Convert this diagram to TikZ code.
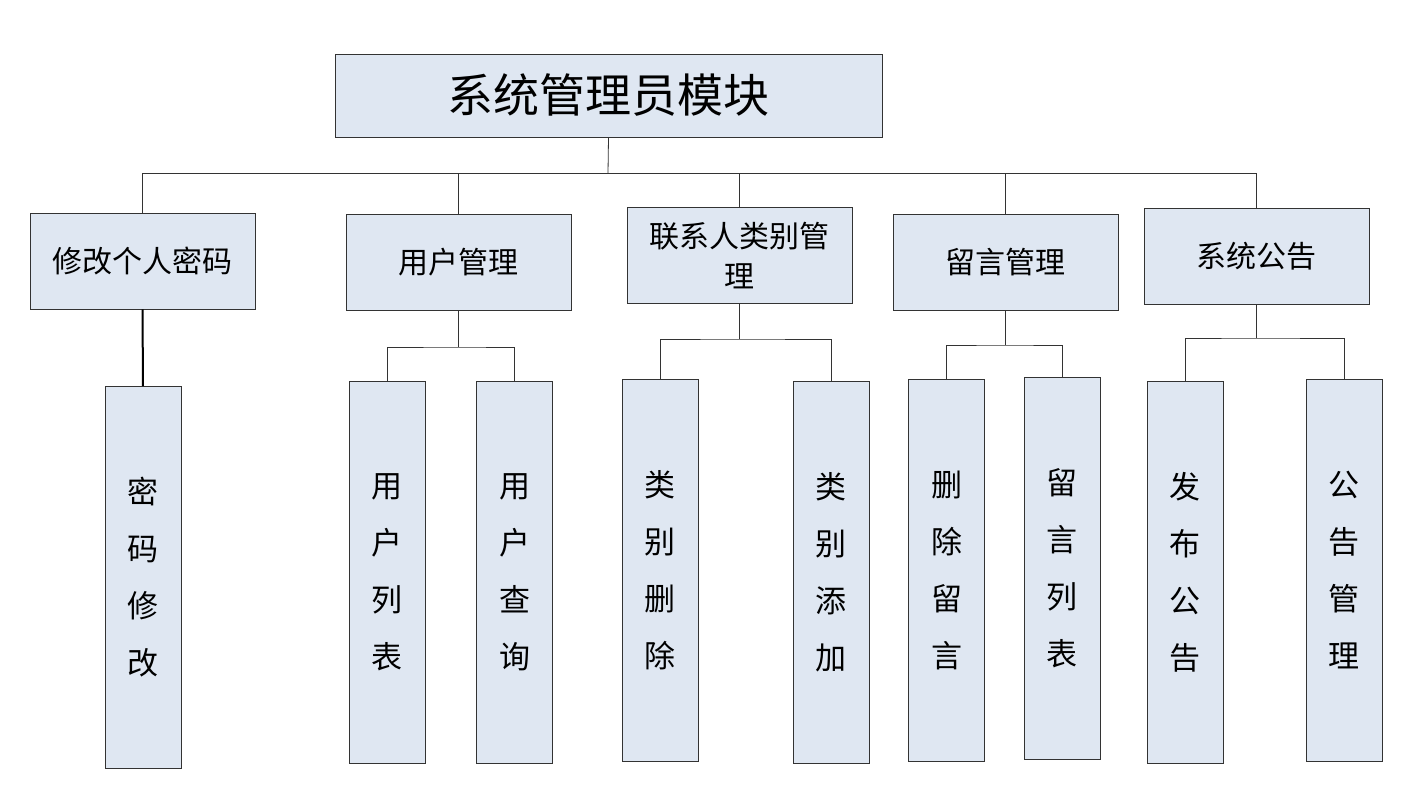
\documentclass[tikz,border=0pt]{standalone}
\usepackage{fontspec}
\newfontfamily\cjk{Noto Sans CJK SC}
\definecolor{boxfill}{RGB}{223,231,242}
\begin{document}
\begin{tikzpicture}[x=1pt,y=-1pt,
  box/.style={draw=black!80,fill=boxfill,line width=0.8pt,inner sep=0pt,font=\cjk\fontsize{30}{40}\selectfont,align=center},
  mid/.style={box,minimum width=225pt,minimum height=96pt},
  leaf/.style={box,minimum width=76pt,minimum height=382pt,font=\cjk\fontsize{31}{57}\selectfont},
  ln/.style={draw=black!80,line width=0.8pt}]
\useasboundingbox (0,0) rectangle (1418,808);
\node[box,minimum width=547pt,minimum height=83pt,font=\cjk\fontsize{46}{50}\selectfont] (top) at (608.5,95.5) {系统管理员模块};
\node[mid] (A) at (142.5,261) {修改个人密码};
\node[mid] (B) at (458.5,262.5) {用户管理};
\node[mid] (C) at (739.5,255.5) {联系人类别管\\理};
\node[mid] (D) at (1005.5,262.5) {留言管理};
\node[mid] (E) at (1256.5,256) {系统公告};
\node[leaf] (A1) at (143,577.5) {密\\码\\修\\改};
\node[leaf] (B1) at (387,572) {用\\户\\列\\表};
\node[leaf] (B2) at (514.5,572) {用\\户\\查\\询};
\node[leaf] (C1) at (660,570) {类\\别\\删\\除};
\node[leaf] (C2) at (831,572) {类\\别\\添\\加};
\node[leaf] (D1) at (946.5,570) {删\\除\\留\\言};
\node[leaf] (D2) at (1062,568) {留\\言\\列\\表};
\node[leaf] (E1) at (1185,572) {发\\布\\公\\告};
\node[leaf] (E2) at (1344,570) {公\\告\\管\\理};
\coordinate (bus) at (608,173);
\draw[ln] (top.south) -- (bus);
\draw[ln] (bus -| A.north) -- (bus -| E.north);
\foreach \n in {A,B,C,D,E} \draw[ln] (bus -| \n.north) -- (\n.north);
\draw[line width=2pt] (A.south) -- (A1.north);
\coordinate (bb) at (0,347); \coordinate (cb) at (0,339);
\coordinate (db) at (0,345); \coordinate (eb) at (0,338);
\draw[ln] (B.south) -- (bb -| B.south); \draw[ln] (B1.north) |- (bb -| B.south) -| (B2.north);
\draw[ln] (C.south) -- (cb -| C.south); \draw[ln] (C1.north) |- (cb -| C.south) -| (C2.north);
\draw[ln] (D.south) -- (db -| D.south); \draw[ln] (D1.north) |- (db -| D.south) -| (D2.north);
\draw[ln] (E.south) -- (eb -| E.south); \draw[ln] (E1.north) |- (eb -| E.south) -| (E2.north);
\end{tikzpicture}
\end{document}
